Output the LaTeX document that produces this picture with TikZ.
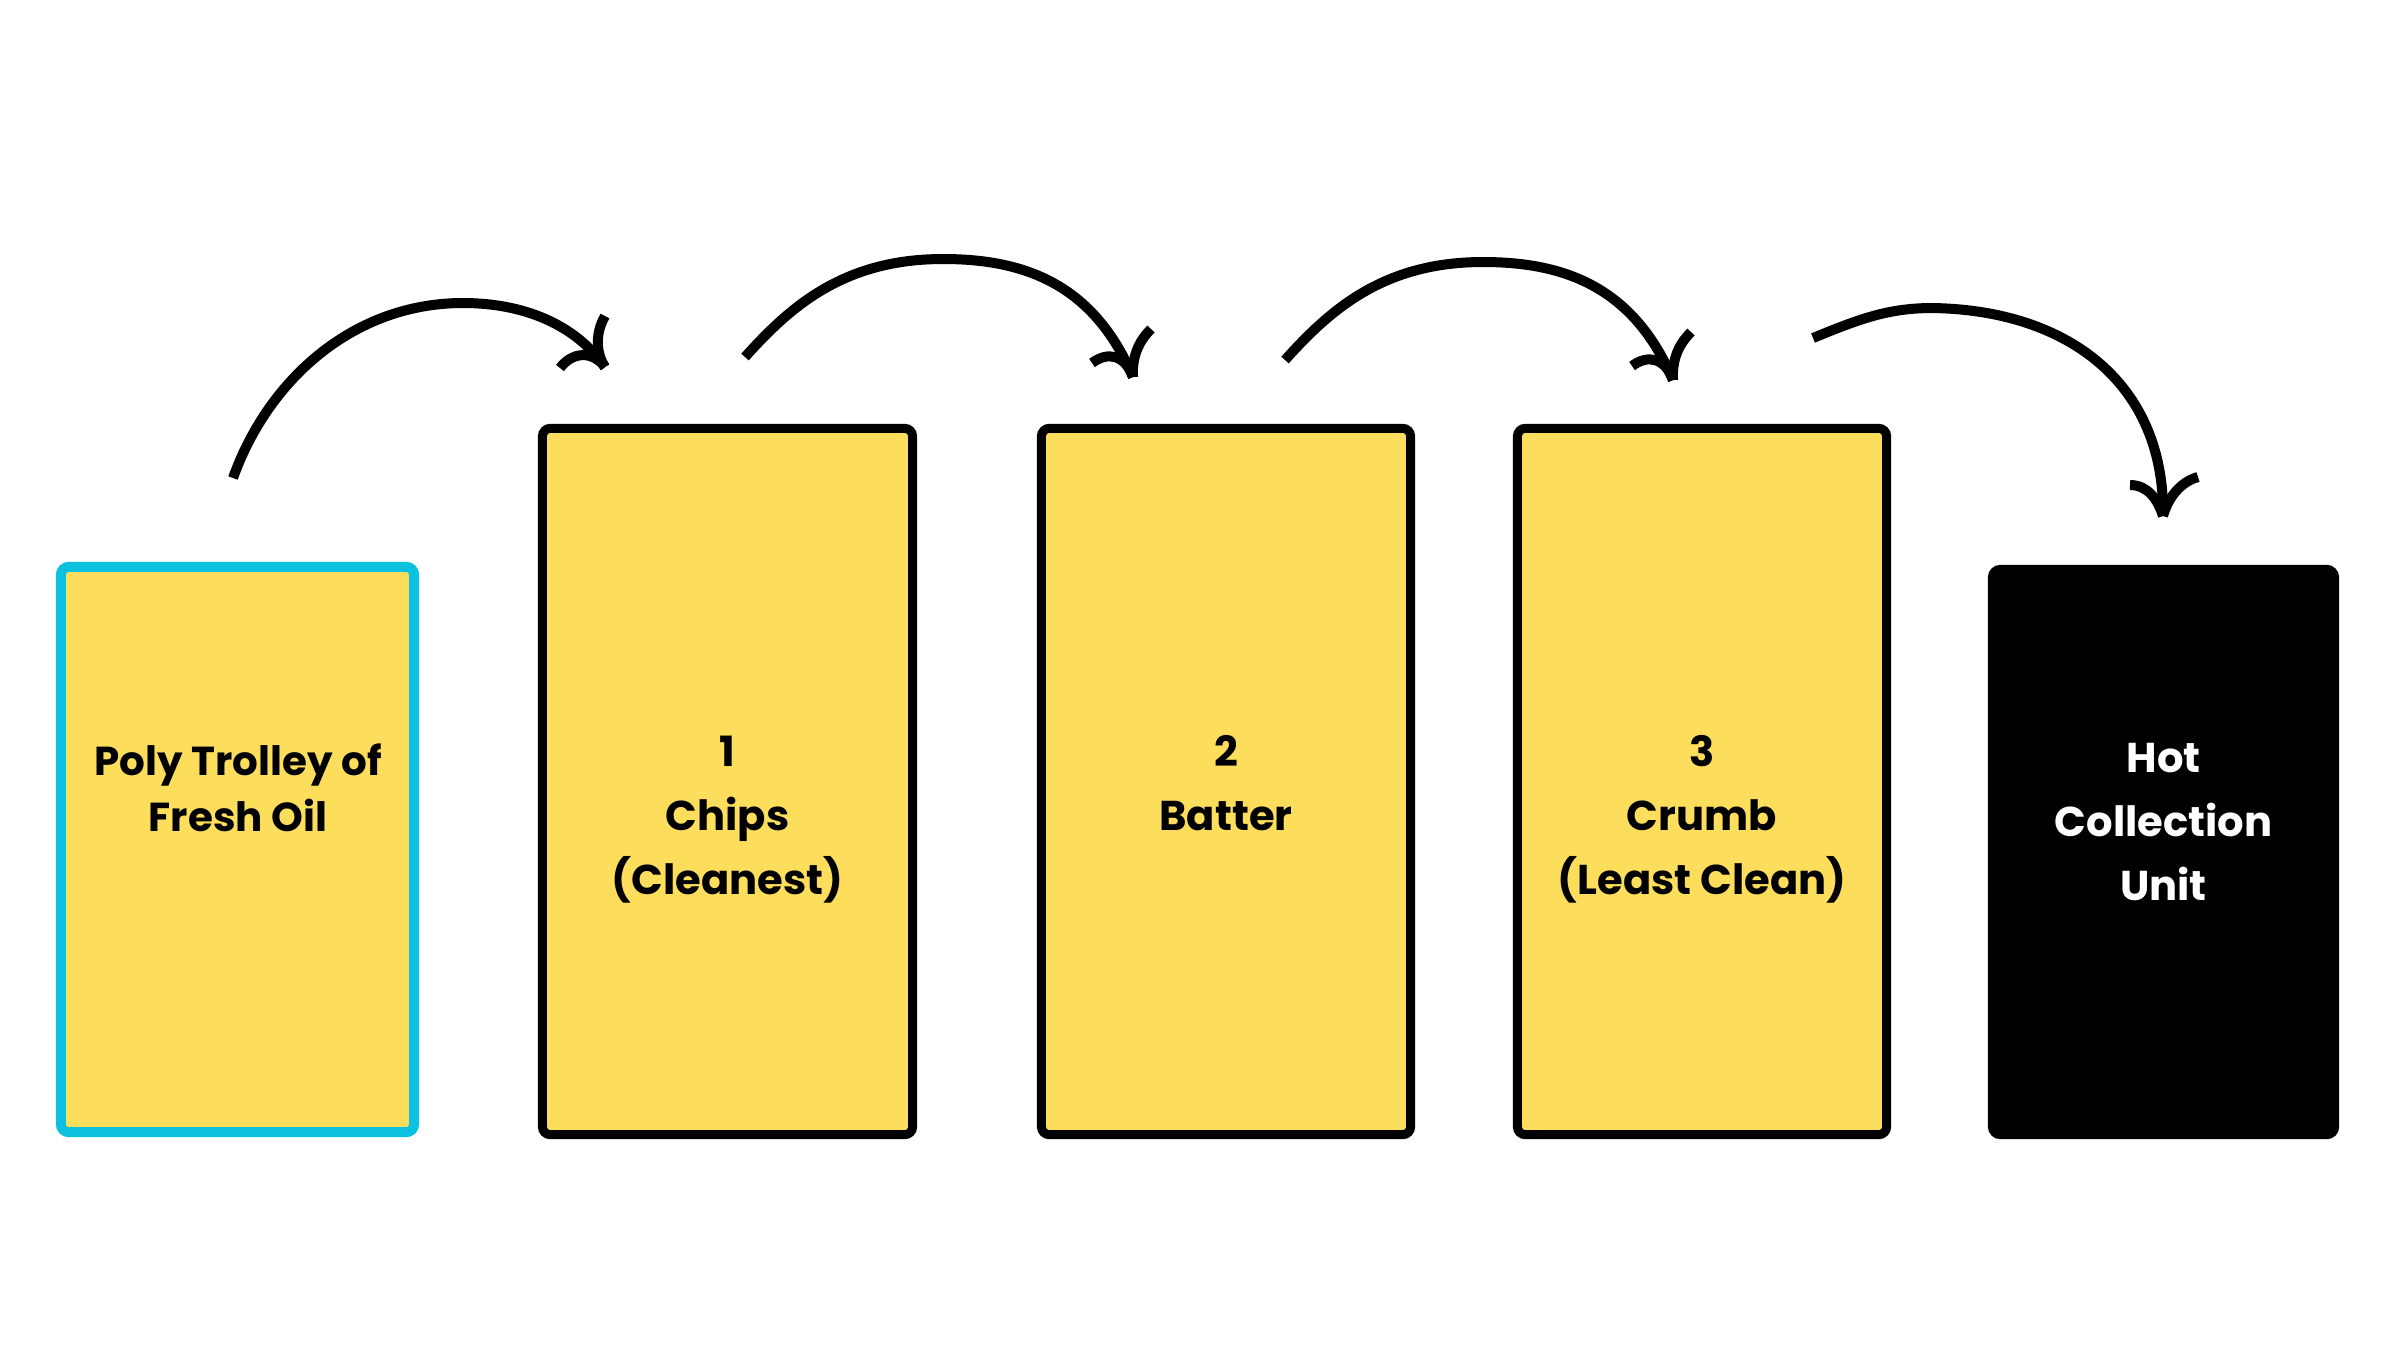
\documentclass[tikz,border=0pt]{standalone}
\usepackage{fontspec}
\setmainfont{Poppins}
\definecolor{boxyellow}{HTML}{FDDD5C}
\definecolor{trolleycyan}{HTML}{0CC0DF}
\begin{document}
\begin{tikzpicture}[x=0.01cm,y=-0.01cm,
  tank/.style={draw=black, line width=0.09cm, fill=boxyellow, rounded corners=0.08cm, inner sep=0pt},
  trolley/.style={draw=trolleycyan, line width=0.10cm, fill=boxyellow, rounded corners=0.08cm, inner sep=0pt},
  unit/.style={draw=black, line width=0.09cm, fill=black, rounded corners=0.08cm, inner sep=0pt},
  label3/.style={anchor=base, inner sep=0pt, font=\bfseries\fontsize{11.85}{18.2}\selectfont},
  label2/.style={anchor=base, inner sep=0pt, font=\bfseries\fontsize{11.5}{16.2}\selectfont},
  flow/.style={draw=black, line width=0.1cm, line cap=butt}]
\useasboundingbox[fill=white] (0,0) rectangle (2400,1350);
\setlength{\tabcolsep}{0pt}
% boxes
\node[trolley, minimum width=3.53cm, minimum height=5.65cm] (trolleybox) at (237.5,849.5) {};
\node[tank, minimum width=3.70cm, minimum height=7.06cm] (chips) at (727.5,781.5) {};
\node[tank, minimum width=3.69cm, minimum height=7.06cm] (batter) at (1226,781.5) {};
\node[tank, minimum width=3.69cm, minimum height=7.06cm] (crumb) at (1702,781.5) {};
\node[unit, minimum width=3.42cm, minimum height=5.65cm] (hcu) at (2163.5,852) {};
% texts
\node[label2] (trolleytext) at (238,775) {\begin{tabular}[t]{c}Poly Trolley of\\Fresh Oil\end{tabular}};
\node[label3] (chipstext) at (727.5,766) {\begin{tabular}[t]{c}1\\Chips\\(Cleanest)\end{tabular}};
\node[label3] (battertext) at (1226,766) {\begin{tabular}[t]{c}2\\Batter\end{tabular}};
\node[label3] (crumbtext) at (1702,766) {\begin{tabular}[t]{c}3\\Crumb\\(Least Clean)\end{tabular}};
\node[label3, text=white] (hcutext) at (2163.5,772) {\begin{tabular}[t]{c}Hot\\Collection\\Unit\end{tabular}};
% arrow 1
\coordinate (a1s) at (233,478);
\coordinate (a1m) at (463,303);
\coordinate (a1t) at (605,367);
\coordinate (a1l) at (560,368);
\coordinate (a1r) at (605,316);
\draw[flow] (a1s) .. controls (268,380) and (353,303) .. (a1m) .. controls (523,303) and (575,324) .. (a1t);
\draw[flow] (a1l) .. controls (572,352) and (592,350) .. (a1t);
\draw[flow] (a1r) .. controls (594,335) and (597,355) .. (a1t);
% arrow 2
\coordinate (a2s) at (745,357);
\coordinate (a2m) at (943,259);
\coordinate (a2t) at (1133,377);
\coordinate (a2l) at (1092,363);
\coordinate (a2r) at (1151,329);
\draw[flow] (a2s) .. controls (790,307) and (843,259) .. (a2m) .. controls (1023,259) and (1093,283) .. (a2t);
\draw[flow] (a2l) .. controls (1108,351) and (1125,355) .. (a2t);
\draw[flow] (a2r) .. controls (1138,342) and (1132,357) .. (a2t);
% arrow 3
\coordinate (a3s) at (1285,360);
\coordinate (a3m) at (1483,262);
\coordinate (a3t) at (1673,380);
\coordinate (a3l) at (1632,366);
\coordinate (a3r) at (1691,332);
\draw[flow] (a3s) .. controls (1330,310) and (1383,262) .. (a3m) .. controls (1563,262) and (1633,286) .. (a3t);
\draw[flow] (a3l) .. controls (1648,354) and (1665,358) .. (a3t);
\draw[flow] (a3r) .. controls (1678,345) and (1672,360) .. (a3t);
% arrow 4
\coordinate (a4s) at (1813,338);
\coordinate (a4m) at (1932,308);
\coordinate (a4t) at (2163,516);
\coordinate (a4l) at (2130,485);
\coordinate (a4r) at (2198,477);
\draw[flow] (a4s) .. controls (1857,320) and (1887,308) .. (a4m) .. controls (2070,310) and (2165,385) .. (a4t);
\draw[flow] (a4l) .. controls (2148,485) and (2158,500) .. (a4t);
\draw[flow] (a4r) .. controls (2180,482) and (2168,498) .. (a4t);
\end{tikzpicture}
\end{document}
